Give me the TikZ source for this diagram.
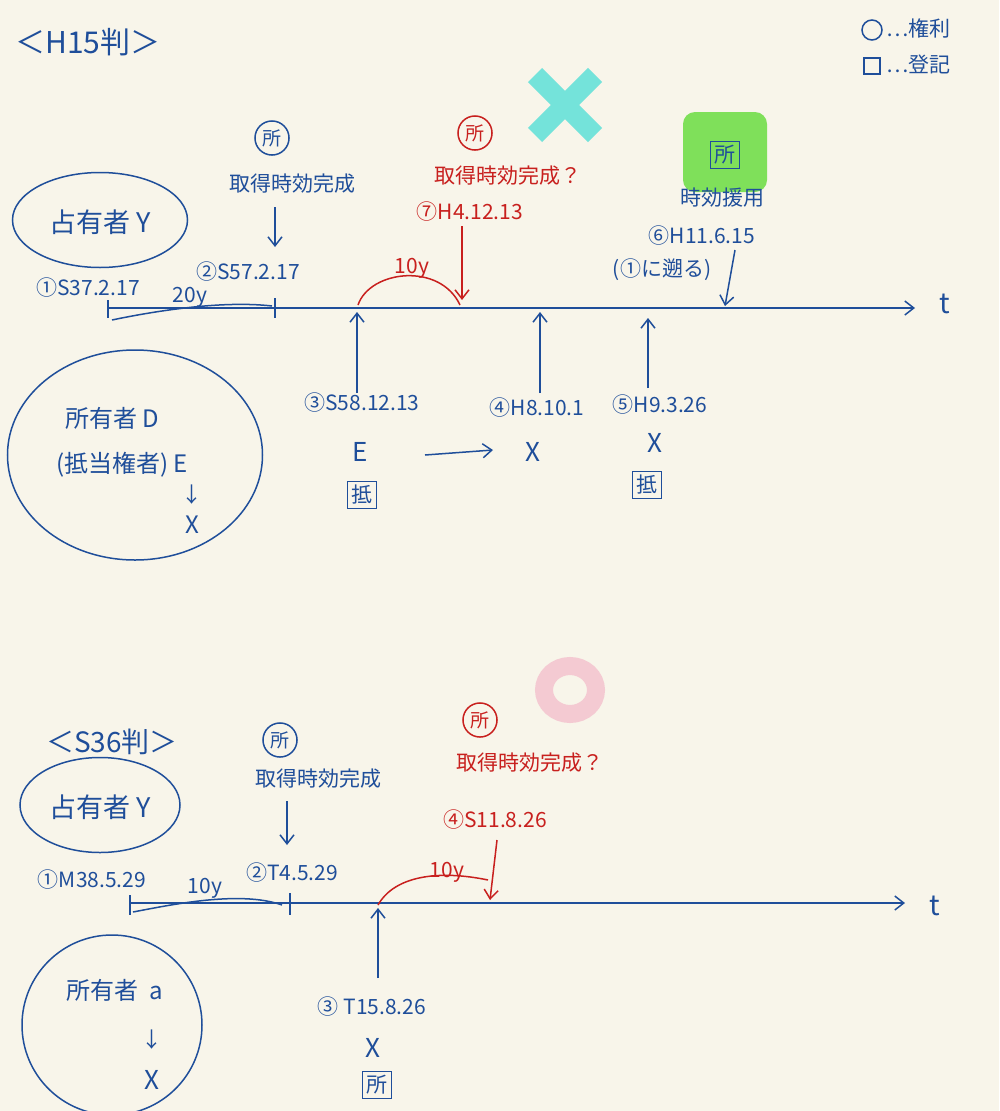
\documentclass[tikz,border=0pt]{standalone}
\usepackage{fontspec}
\setmainfont{Noto Sans CJK JP}
\usetikzlibrary{arrows.meta,shapes.geometric}
\definecolor{bg}{HTML}{F8F5EA}
\definecolor{ink}{HTML}{1F4E9A}
\definecolor{rd}{HTML}{C8201E}
\definecolor{cy}{HTML}{5EE0D8}
\definecolor{gr}{HTML}{7FE05A}
\definecolor{pk}{HTML}{F4C6D0}
\tikzset{
 t/.style={text=ink,font=\fontsize{21}{23}\selectfont,inner sep=1pt},
 tr/.style={text=rd,font=\fontsize{21}{23}\selectfont,inner sep=1pt},
 cir/.style={circle,draw=ink,line width=1.5pt,text=ink,font=\fontsize{19}{20}\selectfont,inner sep=3pt},
 cirr/.style={circle,draw=rd,line width=1.5pt,text=rd,font=\fontsize{19}{20}\selectfont,inner sep=3pt},
 box/.style={rectangle,draw=ink,line width=1.5pt,text=ink,font=\fontsize{21}{22}\selectfont,inner sep=4pt},
 ln/.style={draw=ink,line width=1.5pt},
 lr/.style={draw=rd,line width=1.5pt},
 arr/.style={ln,-{Straight Barb[length=9pt,width=14pt]}},
 arrr/.style={lr,-{Straight Barb[length=9pt,width=14pt]}},
 blob/.style={ellipse,draw=ink,line width=1.5pt,inner sep=0pt}
}
\begin{document}
\begin{tikzpicture}[x=1pt,y=-1pt]
\fill[bg] (0,0) rectangle (999,1111);
\useasboundingbox (0,0) rectangle (999,1111);
% ---------- top ----------
\node[t,font=\fontsize{30}{32}\selectfont] (title1) at (88,42) {＜H15判＞};
\node[circle,draw=ink,line width=1.5pt,minimum size=20pt,inner sep=0pt] (lc) at (872,30) {};
\node[t,anchor=west] (lct) at (885,28) {…権利};
\node[rectangle,draw=ink,line width=1.5pt,minimum size=16pt,inner sep=0pt] (ls) at (872,66) {};
\node[t,anchor=west] (lst) at (885,64) {…登記};
% cyan X
\draw[cy,line width=20pt,opacity=.85] (535,75) -- (595,135) (595,75) -- (535,135);
% green
\fill[gr,rounded corners=12pt] (683,112) rectangle (767,192);
% Y ellipse
\node[blob,minimum width=175pt,minimum height=95pt] (y1) at (100,220) {};
\node[t,font=\fontsize{27}{29}\selectfont] (y1t) at (100,222) {占有者 Y};
% timeline
\coordinate (s1) at (108,308);
\coordinate (e1) at (915,308);
\draw[arr] (s1) -- (e1);
\node[t,font=\fontsize{28}{30}\selectfont] (tt1) at (945,304) {t};
\draw[ln] (108,300) -- (108,318);
\draw[ln] (275,298) -- (275,318);
\node[t] (d1) at (88,288) {①S37.2.17};
\node[t] (d2) at (248,272) {②S57.2.17};
\draw[ln] (112,320) .. controls (150,312) and (220,300) .. (272,306);
\node[t] (y20) at (190,297) {20y};
\node[cir] (sho1) at (272,138) {所};
\node[t] (k1) at (292,184) {取得時効完成};
\coordinate (a1s) at (275,207); \coordinate (a1e) at (275,247);
\draw[arr] (a1s) -- (a1e);
% red
\draw[lr] (358,305) .. controls (370,270) and (440,262) .. (460,305);
\node[tr] (y10) at (412,268) {10y};
\node[cirr] (sho2) at (475,133) {所};
\node[tr] (k2) at (508,176) {取得時効完成？};
\node[tr] (d7) at (470,212) {⑦H4.12.13};
\coordinate (a2s) at (462,226); \coordinate (a2e) at (462,300);
\draw[arrr] (a2s) -- (a2e);
% green side
\node[box] (sho3) at (725,155) {所};
\node[t] (en) at (722,198) {時効援用};
\node[t] (d6) at (702,236) {⑥H11.6.15};
\node[t] (sak) at (662,270) {(①に遡る)};
\coordinate (a3s) at (735,250); \coordinate (a3e) at (725,306);
\draw[arr] (a3s) -- (a3e);
% up arrows
\coordinate (u1s) at (357,393); \coordinate (u1e) at (357,312);
\coordinate (u2s) at (540,393); \coordinate (u2e) at (540,312);
\coordinate (u3s) at (648,388); \coordinate (u3e) at (648,318);
\draw[arr] (u1s) -- (u1e); \draw[arr] (u2s) -- (u2e); \draw[arr] (u3s) -- (u3e);
\node[t] (d3) at (362,403) {③S58.12.13};
\node[t] (d4) at (537,408) {④H8.10.1};
\node[t] (d5) at (660,405) {⑤H9.3.26};
\node[t,font=\fontsize{26}{28}\selectfont] (E1) at (360,452) {E};
\node[box] (tei1) at (362,495) {抵};
\coordinate (hs) at (425,455); \coordinate (he) at (493,450);
\draw[arr] (hs) -- (he);
\node[t,font=\fontsize{26}{28}\selectfont] (X1) at (533,452) {X};
\node[t,font=\fontsize{26}{28}\selectfont] (X2) at (655,443) {X};
\node[box] (tei2) at (647,485) {抵};
% D ellipse
\node[blob,minimum width=255pt,minimum height=210pt] (d1e) at (135,455) {};
\node[t,font=\fontsize{24}{26}\selectfont] (Dt) at (112,418) {所有者 D};
\node[t,font=\fontsize{24}{26}\selectfont] (Et) at (122,465) {(抵当権者) E};
\node[t] (ar1) at (192,495) {↓};
\node[t,font=\fontsize{24}{26}\selectfont] (Xt) at (192,525) {X};
% ---------- bottom ----------
\node[t,font=\fontsize{28}{30}\selectfont] (title2) at (112,742) {＜S36判＞};
\draw[pk,line width=18pt,opacity=.9] (570,690) ellipse (26pt and 24pt);
\node[blob,minimum width=160pt,minimum height=95pt] (y2) at (100,805) {};
\node[t,font=\fontsize{27}{29}\selectfont] (y2t) at (100,807) {占有者 Y};
\node[cir] (sho4) at (280,740) {所};
\node[t] (k3) at (318,779) {取得時効完成};
\coordinate (b1s) at (287,801); \coordinate (b1e) at (287,845);
\draw[arr] (b1s) -- (b1e);
\node[cirr] (sho5) at (480,720) {所};
\node[tr] (k4) at (530,763) {取得時効完成？};
\node[tr] (d24) at (495,820) {④S11.8.26};
\coordinate (b2s) at (497,840); \coordinate (b2e) at (490,900);
\draw[arrr] (b2s) -- (b2e);
\coordinate (s2) at (130,903); \coordinate (e2) at (905,903);
\draw[arr] (s2) -- (e2);
\node[t,font=\fontsize{28}{30}\selectfont] (tt2) at (935,906) {t};
\draw[ln] (130,895) -- (130,915);
\draw[ln] (290,893) -- (290,915);
\node[t] (m1) at (92,880) {①M38.5.29};
\node[t] (y10b) at (205,888) {10y};
\node[t] (m2) at (292,873) {②T4.5.29};
\draw[ln] (133,912) .. controls (170,905) and (240,890) .. (282,905);
\draw[lr] (378,905) .. controls (395,875) and (440,870) .. (488,880);
\node[tr] (y10c) at (447,872) {10y};
\coordinate (b3s) at (378,978); \coordinate (b3e) at (378,908);
\draw[arr] (b3s) -- (b3e);
\node[t] (m3) at (372,1007) {③ T15.8.26};
\node[t,font=\fontsize{26}{28}\selectfont] (X3) at (373,1048) {X};
\node[box] (sho6) at (377,1085) {所};
\node[blob,minimum width=180pt,minimum height=180pt] (a2) at (112,1025) {};
\node[t,font=\fontsize{24}{26}\selectfont] (at) at (115,990) {所有者\ \ a};
\node[t] (ar2) at (152,1040) {↓};
\node[t,font=\fontsize{26}{28}\selectfont] (Xa) at (152,1080) {X};
\end{tikzpicture}
\end{document}
